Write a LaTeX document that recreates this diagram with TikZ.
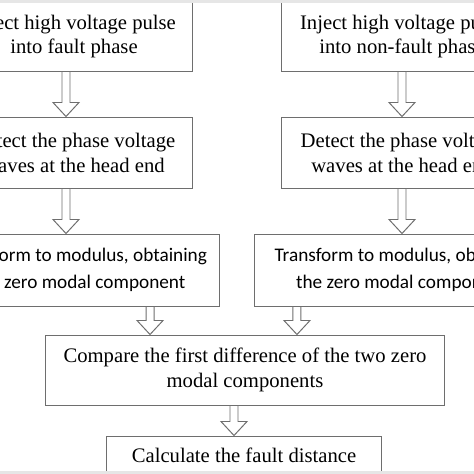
\documentclass[tikz,border=0pt]{standalone}
\usepackage{fontspec}
\setmainfont{Liberation Serif}
\newfontfamily\calibfont{Carlito}
\usetikzlibrary{calc}
\definecolor{boxgray}{HTML}{6E6E6E}
\definecolor{bandgray}{HTML}{E6E6E6}

\begin{document}
\begin{tikzpicture}[x=0.025cm, y=-0.025cm]
    \tikzset{
        stepbox/.style={rectangle, draw=boxgray, line width=0.7pt, align=center, inner sep=0pt, font=\fontsize{14.7}{17.7}\selectfont},
        sansbox/.style={stepbox, font=\calibfont\fontsize{13.7}{19.2}\selectfont},
        hollow/.style={draw=boxgray, line width=0.7pt, fill=white,
            to path={let \p1=(\tikztostart), \p2=(\tikztotarget) in
                (\x1-0.1cm,\y1) -- (\x1-0.1cm,\y2+0.35cm) -- (\x1-0.325cm,\y2+0.35cm) -- (\x1,\y2)
                -- (\x1+0.325cm,\y2+0.35cm) -- (\x1+0.1cm,\y2+0.35cm) -- (\x1+0.1cm,\y1) -- cycle}}
    }
    \useasboundingbox (0,0) rectangle (474,474);
    \clip (0,0) rectangle (474,474);

        % left column: fault phase
        \node[stepbox, minimum width=5.9cm, minimum height=1.725cm] (L1) at (74,36.5) {Inject high voltage pulse\\into fault phase};
        \node[stepbox, minimum width=5.9cm, minimum height=1.775cm] (L2) at (74,152.5) {Detect the phase voltage\\waves at the head end};
        \node[sansbox, minimum width=6.975cm, minimum height=1.8cm] (L3) at (79.5,270) {Transform to modulus, obtaining\\the zero modal component};

        % right column: non-fault phase
        \node[stepbox, minimum width=6cm, minimum height=1.725cm] (R1) at (402,36.5) {Inject high voltage pulse\\into non-fault phase};
        \node[stepbox, minimum width=6cm, minimum height=1.775cm] (R2) at (402,152.5) {Detect the phase voltage\\waves at the head end};
        \node[sansbox, minimum width=7.35cm, minimum height=1.8cm] (R3) at (402,270) {Transform to modulus, obtaining\\the zero modal component};

        \node[stepbox, minimum width=9.95cm, minimum height=1.75cm] (C) at (245,370) {Compare the first difference of the two zero\\modal components};
        \node[stepbox, minimum width=6.85cm, minimum height=0.95cm] (D) at (244,455) {Calculate the fault distance};

        \draw[hollow] ([xshift=-0.2cm]L1.south) to (L2.north);
        \draw[hollow] ([xshift=-0.2cm]L2.south) to (L3.north);
        \draw[hollow] (R1.south) to (R2.north);
        \draw[hollow] (R2.south) to (R3.north);
        \draw[hollow] ([xshift=1.7625cm]L3.south) to (C.north);
        \draw[hollow] ([xshift=-2.625cm]R3.south) to (C.north);
        \draw[hollow] ([xshift=-0.275cm]C.south) to (D.north);

        \fill[bandgray] (0,0) rectangle (474,3);
        \fill[bandgray] (0,470.5) rectangle (474,474);

    \end{tikzpicture}
\end{document}
